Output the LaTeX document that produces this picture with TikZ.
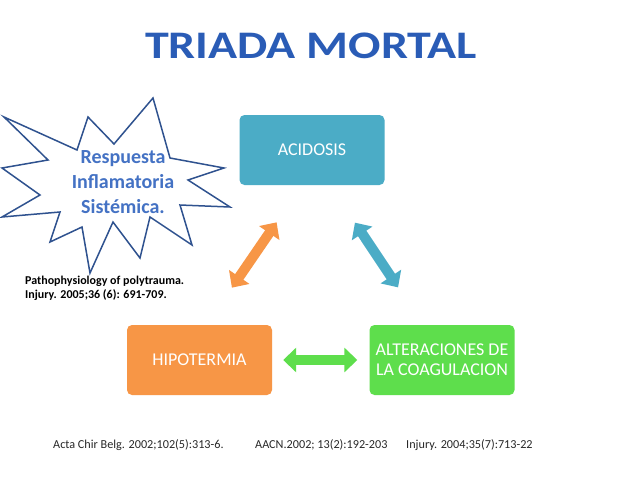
\documentclass[tikz,border=0pt]{standalone}
\usepackage{fontspec}
\setmainfont{Carlito}
\usetikzlibrary{arrows.meta}

\definecolor{acidblue}{RGB}{75,172,198}
\definecolor{hipoorange}{RGB}{247,150,70}
\definecolor{coaggreen}{RGB}{94,222,76}
\definecolor{titleblue}{RGB}{42,92,182}
\definecolor{starline}{RGB}{47,82,143}
\definecolor{startext}{RGB}{68,114,196}
\definecolor{reftext}{RGB}{40,40,40}

\tikzset{
    box/.style={rounded corners=5pt, minimum width=145pt, minimum height=70pt,
        text=white, align=center, font=\fontsize{18}{20}\selectfont},
    fatarrow/.style={line width=10pt,
        {Triangle[length=13pt,width=24pt]}-{Triangle[length=13pt,width=24pt]},
        shorten <=45pt, shorten >=45pt},
    ref/.style={inner sep=0pt, font=\fontsize{12.2}{13.5}\selectfont, text=reftext}
}

\begin{document}
\begin{tikzpicture}[x=1pt,y=-1pt]
    \useasboundingbox[fill=white] (0,0) rectangle (638,479);

    % Title
    \node[text=titleblue] (title) at (311,46)
        {\scalebox{1.23}[1]{\fontsize{39}{44}\selectfont\bfseries TRIADA MORTAL}};

    % Star
    \draw[starline, line width=1.5pt] (4,117) -- (48,160) -- (2,168) -- (40,195)
        -- (2,217) -- (60,212) -- (50,242) -- (82,227) -- (90,273) -- (113,222)
        -- (140,258) -- (150,217) -- (192,245) -- (180,205) -- (230,207)
        -- (188,180) -- (224,168) -- (170,158) -- (153,98) -- (114,144)
        -- (88,117) -- (77,150) -- cycle;
    \node[text=startext, align=center, font=\fontsize{20}{25}\selectfont\bfseries]
        (sirs) at (123,182) {Respuesta\\Inflamatoria\\Sistémica.};

    % Boxes
    \node[box, fill=acidblue] (acid) at (312,150) {ACIDOSIS};
    \node[box, fill=hipoorange] (hipo) at (199.5,360) {HIPOTERMIA};
    \node[box, fill=coaggreen] (coag) at (442,360) {ALTERACIONES DE\\LA COAGULACION};

    % Arrows
    \draw[fatarrow, hipoorange] ([xshift=7pt]hipo.north) -- ([xshift=-10pt]acid.south);
    \draw[fatarrow, acidblue] ([xshift=18pt]acid.south) -- ([xshift=-19pt]coag.north);
    \draw[fatarrow, coaggreen, shorten <=11pt, shorten >=12pt] (hipo.east) -- (coag.west);

    % References
    \node[ref, text=black, align=left, anchor=west, font=\fontsize{12}{13.5}\selectfont\bfseries]
        (polyref) at (25,288.5) {Pathophysiology of polytrauma.\\Injury. 2005;36 (6): 691-709.};
    \node[ref, anchor=west] (actaref) at (53,445) {Acta Chir Belg. 2002;102(5):313-6.};
    \node[ref, anchor=west] (aacnref) at (255,445) {AACN.2002; 13(2):192-203};
    \node[ref, anchor=west] (injref) at (406,445) {Injury. 2004;35(7):713-22};
\end{tikzpicture}
\end{document}
